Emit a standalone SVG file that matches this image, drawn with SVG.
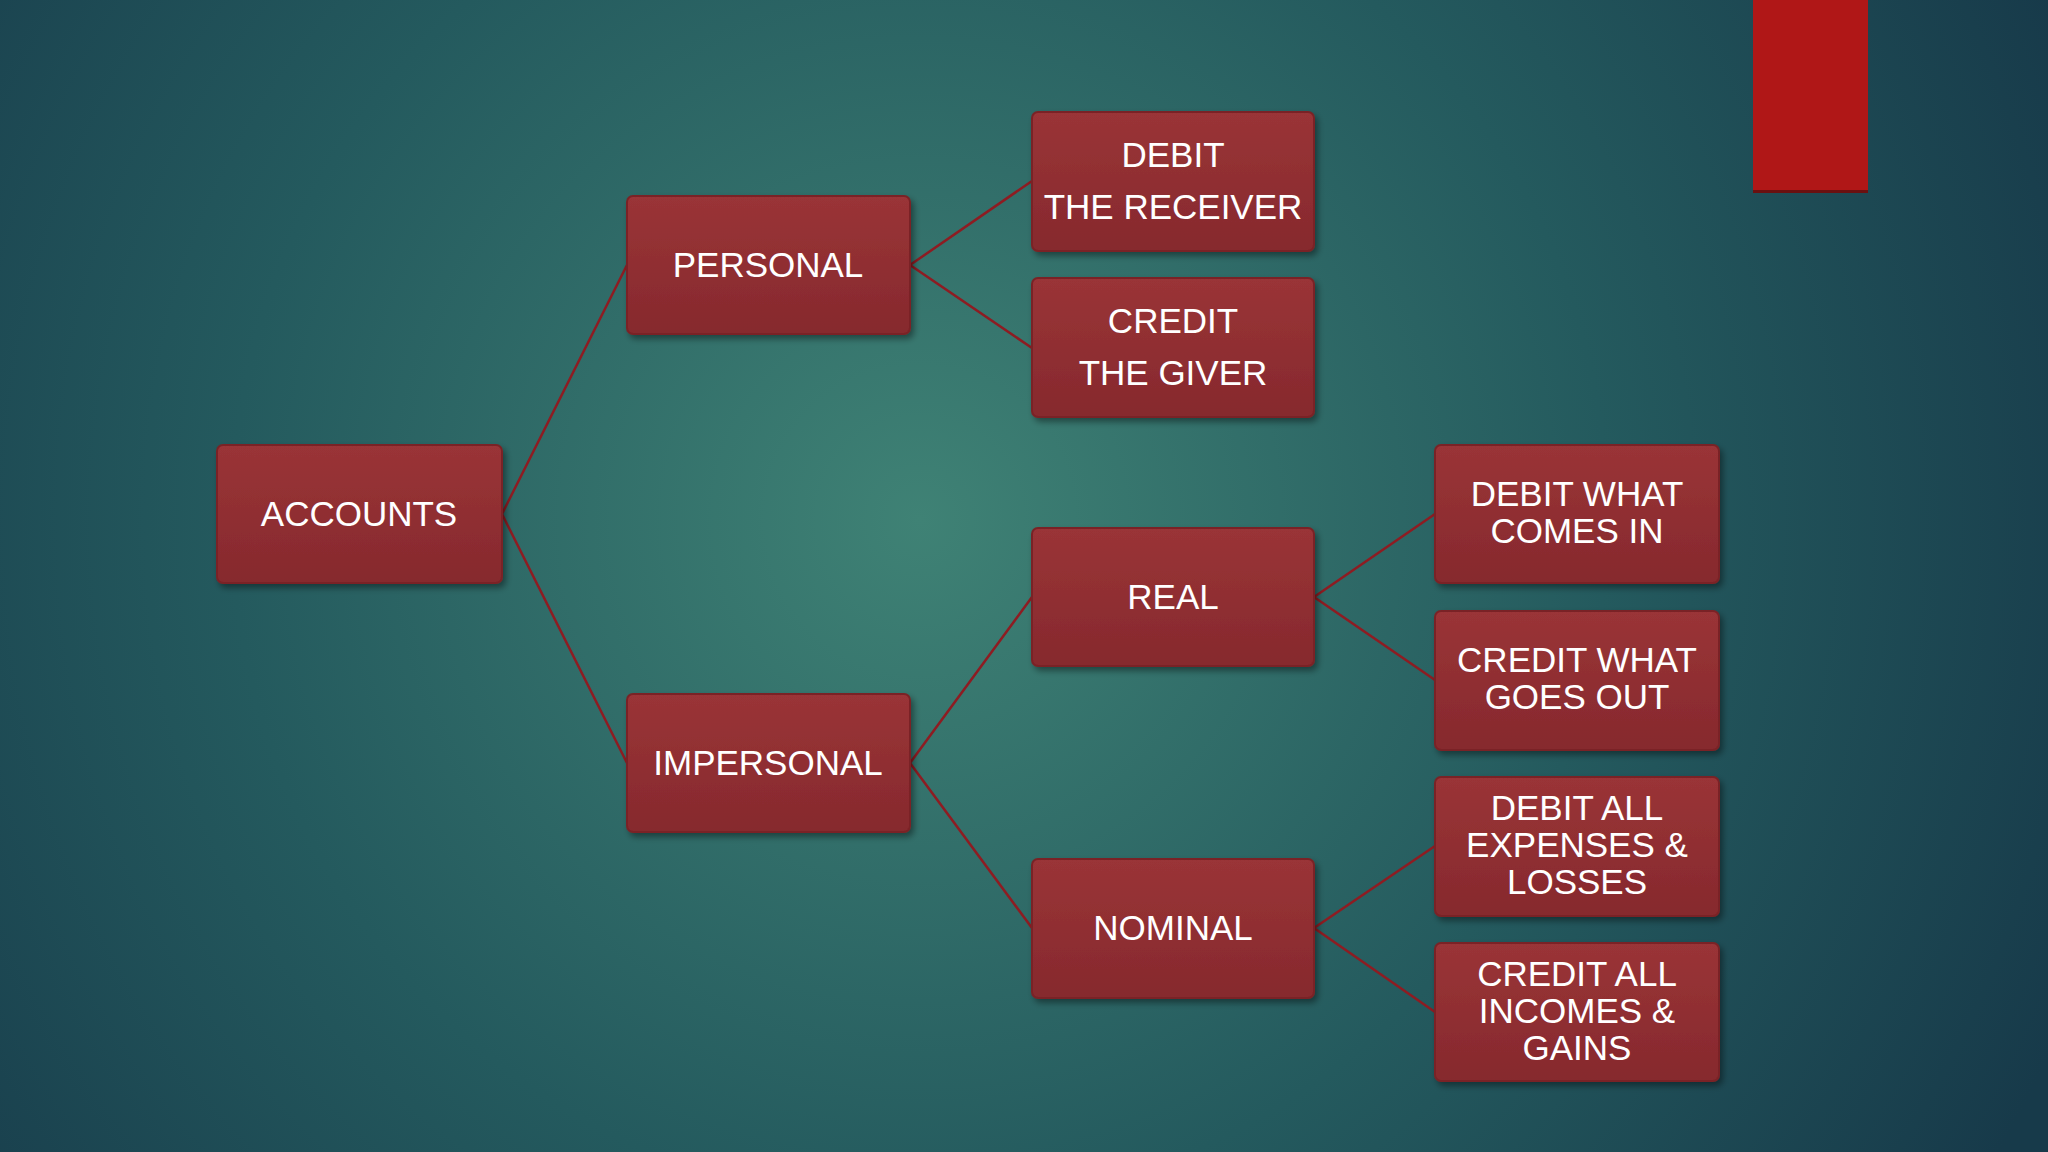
<svg xmlns="http://www.w3.org/2000/svg" width="2048" height="1152" viewBox="0 0 2048 1152">
<defs>
<radialGradient id="bg" cx="920" cy="520" r="1250" gradientUnits="userSpaceOnUse">
<stop offset="0" stop-color="#3f8275"/><stop offset="0.55" stop-color="#245a5e"/><stop offset="1" stop-color="#173a4a"/>
</radialGradient>
<linearGradient id="box" x1="0" y1="0" x2="0" y2="1">
<stop offset="0" stop-color="#9a3437"/><stop offset="1" stop-color="#86292d"/>
</linearGradient>
<filter id="sh" x="-10%" y="-10%" width="130%" height="130%"><feDropShadow dx="3" dy="4" stdDeviation="3" flood-color="#000" flood-opacity="0.4"/></filter>
<style>
.b{fill:url(#box);stroke:#7a2226;stroke-width:2;filter:url(#sh)}
.t{font-family:"Liberation Sans",Arial,sans-serif;font-size:35px;fill:#fff;text-anchor:middle}
.c{stroke:#8e1c22;stroke-width:2.5;fill:none}
</style>
</defs>
<rect width="2048" height="1152" fill="url(#bg)"/>
<rect x="1753" y="0" width="115" height="192" fill="#b01717"/>
<rect x="1753" y="190" width="115" height="3" fill="#6a1010"/>
<g id="connectors">
<path class="c" d="M502 514 L627 265 M502 514 L627 763 M910 265 L1032 181 M910 265 L1032 348 M910 763 L1032 597 M910 763 L1032 928 M1314 597 L1435 514 M1314 597 L1435 680 M1314 928 L1435 846 M1314 928 L1435 1012"/>
</g>
<g id="accounts"><rect class="b" x="217" y="445" width="285" height="138" rx="6"/><text class="t" x="359" y="526">ACCOUNTS</text></g>
<g id="personal"><rect class="b" x="627" y="196" width="283" height="138" rx="6"/><text class="t" x="768" y="277">PERSONAL</text></g>
<g id="impersonal"><rect class="b" x="627" y="694" width="283" height="138" rx="6"/><text class="t" x="768" y="775">IMPERSONAL</text></g>
<g id="debit-receiver"><rect class="b" x="1032" y="112" width="282" height="139" rx="6"/><text class="t" x="1173" y="167">DEBIT</text><text class="t" x="1173" y="219">THE RECEIVER</text></g>
<g id="credit-giver"><rect class="b" x="1032" y="278" width="282" height="139" rx="6"/><text class="t" x="1173" y="333">CREDIT</text><text class="t" x="1173" y="385">THE GIVER</text></g>
<g id="real"><rect class="b" x="1032" y="528" width="282" height="138" rx="6"/><text class="t" x="1173" y="609">REAL</text></g>
<g id="nominal"><rect class="b" x="1032" y="859" width="282" height="139" rx="6"/><text class="t" x="1173" y="940">NOMINAL</text></g>
<g id="debit-comes-in"><rect class="b" x="1435" y="445" width="284" height="138" rx="6"/><text class="t" x="1577" y="506">DEBIT WHAT</text><text class="t" x="1577" y="543">COMES IN</text></g>
<g id="credit-goes-out"><rect class="b" x="1435" y="611" width="284" height="139" rx="6"/><text class="t" x="1577" y="672">CREDIT WHAT</text><text class="t" x="1577" y="709">GOES OUT</text></g>
<g id="debit-expenses"><rect class="b" x="1435" y="777" width="284" height="139" rx="6"/><text class="t" x="1577" y="820">DEBIT ALL</text><text class="t" x="1577" y="857">EXPENSES &amp;</text><text class="t" x="1577" y="894">LOSSES</text></g>
<g id="credit-incomes"><rect class="b" x="1435" y="943" width="284" height="138" rx="6"/><text class="t" x="1577" y="986">CREDIT ALL</text><text class="t" x="1577" y="1023">INCOMES &amp;</text><text class="t" x="1577" y="1060">GAINS</text></g>
</svg>
